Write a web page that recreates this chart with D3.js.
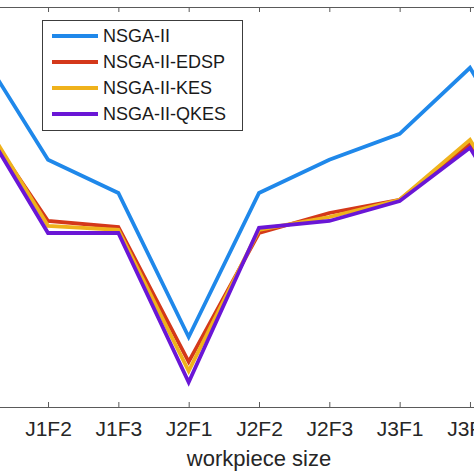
<!DOCTYPE html>
<html>
<head>
<meta charset="utf-8">
<script src="https://cdn.jsdelivr.net/npm/d3@7"></script>
<style>
  body { margin: 0; background: #fff; }
  svg { display: block; font-family: Arial, "Liberation Sans", sans-serif; }
</style>
</head>
<body>
<div id="graph"></div>
<script>
var w = 474;
var h = 474;

// workpiece sizes (x categories)
var categories = ["J1F1", "J1F2", "J1F3", "J2F1", "J2F2", "J2F3", "J3F1", "J3F2", "J3F3"];
// series values (y axis labels are cropped away, arbitrary units)
var nsga2      = [90.0, 61.8, 53.5, 17.5, 53.5, 61.8, 68.3, 84.8, 55.5];
var nsga2Edsp  = [72.5, 46.5, 45.0, 11.3, 43.5, 48.5, 51.8, 65.8, 36.8];
var nsga2Kes   = [74.0, 45.3, 44.3,  9.0, 44.3, 47.5, 51.8, 66.8, 38.0];
var nsga2Qkes  = [72.8, 43.5, 43.5,  6.2, 44.8, 46.5, 51.5, 64.8, 36.3];
var seriesNames = ["NSGA-II", "NSGA-II-EDSP", "NSGA-II-KES", "NSGA-II-QKES"];
var yDomain = [0, 100];

var colorKey = {"NSGA-II": "#1f88ea",
                "NSGA-II-EDSP": "#d4381a",
                "NSGA-II-KES": "#efb21c",
                "NSGA-II-QKES": "#6a16d6"};

var series = [
  {name: seriesNames[0], values: nsga2},
  {name: seriesNames[1], values: nsga2Edsp},
  {name: seriesNames[2], values: nsga2Kes},
  {name: seriesNames[3], values: nsga2Qkes}
];

// the plot area is wider than the picture: first and last category fall outside
var x = d3.scalePoint().domain(categories).range([-22.3, 540.3]);
var y = d3.scaleLinear().domain(yDomain).range([407, 7]);

var svg = d3.select("#graph").append("svg")
    .attr("width", w)
    .attr("height", h);

// bottom axis, ticks pointing inward
var xAxis = svg.append("g")
    .attr("transform", "translate(0," + y(yDomain[0]) + ")")
    .call(d3.axisBottom(x).tickSizeInner(-5).tickSizeOuter(0).tickPadding(14));
xAxis.select(".domain").attr("stroke", "#5a5a5a");
xAxis.selectAll(".tick line").attr("stroke", "#5a5a5a");
xAxis.selectAll(".tick text")
    .attr("fill", "#262626")
    .style("font-size", "21px")
    .attr("dy", "0.71em");
// labels of ticks lying off the picture are not drawn
xAxis.selectAll(".tick").filter(function(d) { return x(d) < 0 || x(d) > w; })
    .select("text").remove();

// top box edge
var topAxis = svg.append("g")
    .attr("transform", "translate(0," + y(yDomain[1]) + ")")
    .call(d3.axisTop(x).tickSizeInner(-5).tickSizeOuter(0).tickFormat(""));
topAxis.select(".domain").attr("stroke", "#5a5a5a");
topAxis.selectAll(".tick line").attr("stroke", "#5a5a5a");

svg.append("text")
    .attr("x", (x.range()[0] + x.range()[1]) / 2)
    .attr("y", 466)
    .attr("text-anchor", "middle")
    .attr("fill", "#262626")
    .style("font-size", "22px")
    .text("workpiece size");

var line = d3.line()
    .x(function(d, i) { return x(categories[i]); })
    .y(function(d) { return y(d); });

svg.selectAll("path.series")
    .data(series)
    .enter()
    .append("path")
    .attr("class", "series")
    .attr("d", function(d) { return line(d.values); })
    .attr("fill", "none")
    .attr("stroke", function(d) { return colorKey[d.name]; })
    .attr("stroke-width", 3.8)
    .attr("stroke-linejoin", "miter");

// legend
var legend = svg.append("g").attr("transform", "translate(42,20)");
legend.append("rect")
    .attr("x", 0.5)
    .attr("y", 0.5)
    .attr("width", 200)
    .attr("height", 110)
    .attr("fill", "#fff")
    .attr("stroke", "#3c3c3c")
    .attr("stroke-width", 1);

var rows = legend.selectAll("g.row")
    .data(series)
    .enter()
    .append("g")
    .attr("class", "row")
    .attr("transform", function(d, i) { return "translate(0," + (16 + i * 26) + ")"; });
rows.append("line")
    .attr("x1", 10)
    .attr("x2", 56)
    .attr("stroke", function(d) { return colorKey[d.name]; })
    .attr("stroke-width", 3.8);
rows.append("text")
    .attr("x", 61)
    .attr("dy", "0.36em")
    .attr("fill", "#1a1a1a")
    .style("font-size", "18px")
    .text(function(d) { return d.name; });
</script>
</body>
</html>
